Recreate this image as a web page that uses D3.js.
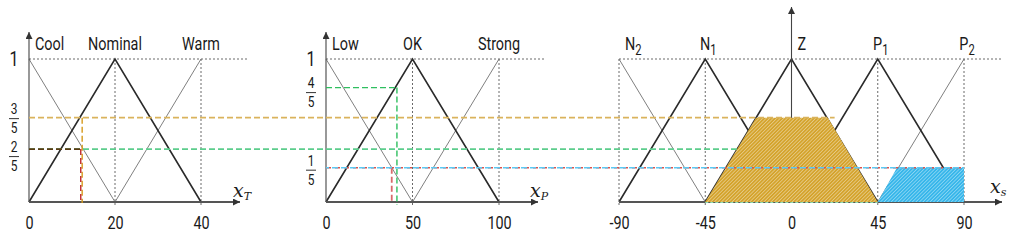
<!DOCTYPE html>
<html>
<head>
<meta charset="utf-8">
<script src="https://cdn.jsdelivr.net/npm/d3@7"></script>
<style>
  body { margin: 0; background: #fff; }
  svg { display: block; }
  .lbl { font-family: Roboto, "Noto Sans", sans-serif; fill: #1a1a1a; }
  .var { font-family: "DejaVu Serif", "Liberation Serif", serif; font-style: italic; fill: #1a1a1a; }
</style>
</head>
<body>
<div id="chart"></div>
<script>
// membership functions as [x, mu] points
const tempTicks = [0, 20, 40];
const tempNames = ["Cool", "Nominal", "Warm"];
const tempCool = [[0, 1], [20, 0]];
const tempNominal = [[0, 0], [20, 1], [40, 0]];
const tempWarm = [[20, 0], [40, 1]];

const pressTicks = [0, 50, 100];
const pressNames = ["Low", "OK", "Strong"];
const pressLow = [[0, 1], [50, 0]];
const pressOk = [[0, 0], [50, 1], [100, 0]];
const pressStrong = [[50, 0], [100, 1]];

const steerTicks = [-90, -45, 0, 45, 90];
const steerNames = [["N", "2"], ["N", "1"], ["Z", ""], ["P", "1"], ["P", "2"]];
const steerN2 = [[-90, 1], [-45, 0]];
const steerN1 = [[-90, 0], [-45, 1], [0, 0]];
const steerZ = [[-45, 0], [0, 1], [45, 0]];
const steerP1 = [[0, 0], [45, 1], [90, 0]];
const steerP2 = [[45, 0], [90, 1]];

// crisp inputs and firing levels
const tempInput = 12.2;
const pressInputLow = 38;
const pressInputOk = 41;
const muNominal = 0.59;
const muCool = 0.37;
const muOk = 0.8;
const muLow = 0.24;

// clipped output sets
const outZ = [[-45, 0], [-18.5, 0.59], [19, 0.59], [45, 0]];
const outP2 = [[45, 0], [55, 0.24], [90, 0.24], [90, 0]];

// fraction tick labels on the membership axis
const tempFracs = [["3", "5"], ["2", "5"]];
const pressFracs = [["4", "5"], ["1", "5"]];

async function draw() {
  const dimensions = { width: 1024, height: 245 };

  const yScale = d3.scaleLinear().domain([0, 1]).range([202, 59]);
  const xT = d3.scaleLinear().domain([0, 40]).range([29, 201]);
  const xP = d3.scaleLinear().domain([0, 100]).range([326, 499]);
  const xS = d3.scaleLinear().domain([-90, 90]).range([619, 964]);

  const svg = d3
    .select("#chart")
    .append("svg")
    .attr("width", dimensions.width)
    .attr("height", dimensions.height);

  const defs = svg.append("defs");
  defs
    .append("marker")
    .attr("id", "arrow")
    .attr("viewBox", "0 0 10 10")
    .attr("refX", 10)
    .attr("refY", 5)
    .attr("markerWidth", 9)
    .attr("markerHeight", 7)
    .attr("markerUnits", "userSpaceOnUse")
    .attr("orient", "auto")
    .append("path")
    .attr("d", "M0,0L10,5L0,10z")
    .attr("fill", "#333");

  const hatch = (id, color) => {
    const p = defs
      .append("pattern")
      .attr("id", id)
      .attr("patternUnits", "userSpaceOnUse")
      .attr("width", 2.5)
      .attr("height", 2.5)
      .attr("patternTransform", "rotate(45)");
    p.append("rect").attr("width", 2.5).attr("height", 2.5).attr("fill", color);
    p.append("line")
      .attr("x1", 0.4).attr("y1", 0).attr("x2", 0.4).attr("y2", 2.5)
      .attr("stroke", "#fff")
      .attr("stroke-width", 0.8)
      .attr("stroke-opacity", 0.45);
  };
  hatch("hatchGold", "#d4a32c");
  hatch("hatchBlue", "#36b6ea");

  const panels = [
    {
      x: xT, ticks: tempTicks, names: tempNames, anchors: ["start", "middle", "middle"],
      thick: [tempNominal], thin: [tempCool, tempWarm], dotted: [20, 40],
      topEnd: 247, arrowEnd: 240, yTop: 32, one: 14, sym: ["x", "T"], symX: 233,
      fracs: tempFracs, fracLevels: [muNominal, muCool], fracNudge: [1, 7.5], fracX: 14,
    },
    {
      x: xP, ticks: pressTicks, names: pressNames, anchors: ["start", "middle", "middle"],
      thick: [pressOk], thin: [pressLow, pressStrong], dotted: [50, 100],
      topEnd: 545, arrowEnd: 538, yTop: 32, one: 311, sym: ["x", "P"], symX: 530,
      fracs: pressFracs, fracLevels: [muOk, muLow], fracNudge: [5, 2.5], fracX: 311,
    },
    {
      x: xS, ticks: steerTicks, names: steerNames, anchors: ["start", "middle", "start", "middle", "middle"],
      thick: [steerN1, steerZ, steerP1], thin: [steerN2, steerP2], dotted: [-90, -45, 45, 90],
      topEnd: 1001, arrowEnd: 1002, yTop: 7, one: null, sym: ["x", "s"], symX: 990,
      fracs: [], fracLevels: [], fracNudge: [], fracX: 0,
    },
  ];

  const base = yScale(0);
  const lineLayer = svg.append("g");

  panels.forEach((p) => {
    const x = p.x;
    const g = lineLayer.append("g");
    const x0 = x.range()[0];
    const line = d3.line().x((d) => x(d[0])).y((d) => yScale(d[1]));

    // dotted guides
    g.append("line")
      .attr("x1", x0).attr("x2", p.topEnd)
      .attr("y1", yScale(1)).attr("y2", yScale(1))
      .attr("stroke", "#444").attr("stroke-width", 0.8).attr("stroke-dasharray", "2,2");
    g.selectAll(".vdot")
      .data(p.dotted)
      .join("line")
      .attr("x1", (d) => x(d)).attr("x2", (d) => x(d))
      .attr("y1", yScale(1)).attr("y2", base + 3)
      .attr("stroke", "#444").attr("stroke-width", 0.8).attr("stroke-dasharray", "2,2");

    // membership functions
    g.selectAll(".thin")
      .data(p.thin)
      .join("path")
      .attr("d", line)
      .attr("fill", "none").attr("stroke", "#808080").attr("stroke-width", 1);
    g.selectAll(".thick")
      .data(p.thick)
      .join("path")
      .attr("d", line)
      .attr("fill", "none").attr("stroke", "#2a2a2a").attr("stroke-width", 1.6);

    // axes with arrows
    const yAxisX = x(0);
    g.append("line")
      .attr("x1", yAxisX).attr("x2", yAxisX)
      .attr("y1", base).attr("y2", p.yTop)
      .attr("stroke", "#444").attr("stroke-width", 1.1)
      .attr("marker-end", "url(#arrow)");
    g.append("line")
      .attr("x1", x0).attr("x2", p.arrowEnd)
      .attr("y1", base).attr("y2", base)
      .attr("stroke", "#555").attr("stroke-width", 2)
      .attr("marker-end", "url(#arrow)");
  });

  const sLine = d3.line().x((d) => xS(d[0])).y((d) => yScale(d[1]));
  const dash = "6,3";
  const green = "#5ccd8c";
  const orange = "#dab35c";

  // green (Cool) level goes under the fill
  svg.append("line")
    .attr("x1", xT(0)).attr("x2", xS(-28.5))
    .attr("y1", yScale(muCool)).attr("y2", yScale(muCool))
    .attr("stroke", green).attr("stroke-width", 1.6).attr("stroke-dasharray", dash);

  // clipped output sets in the steering panel
  svg.append("path").attr("d", sLine(outZ) + "Z").attr("fill", "url(#hatchGold)");
  svg.append("path").attr("d", sLine(outP2) + "Z").attr("fill", "url(#hatchBlue)");
  svg.append("line")
    .attr("x1", xS(-45)).attr("x2", xS(45))
    .attr("y1", base + 0.5).attr("y2", base + 0.5)
    .attr("stroke", "#8fdcae").attr("stroke-width", 1.2).attr("stroke-dasharray", "3,2");

  // dark part of the Cool level (red over green)
  svg.append("line")
    .attr("x1", xT(0)).attr("x2", xT(tempInput))
    .attr("y1", yScale(muCool)).attr("y2", yScale(muCool))
    .attr("stroke", "#5a3a12").attr("stroke-width", 1.6).attr("stroke-dasharray", dash);

  // Nominal level
  svg.append("line")
    .attr("x1", xT(0)).attr("x2", xS(22.5))
    .attr("y1", yScale(muNominal)).attr("y2", yScale(muNominal))
    .attr("stroke", orange).attr("stroke-width", 1.6).attr("stroke-dasharray", dash);

  // temperature input
  svg.append("line")
    .attr("x1", xT(tempInput) + 0.7).attr("x2", xT(tempInput) + 0.7)
    .attr("y1", yScale(muNominal)).attr("y2", base + 1)
    .attr("stroke", "#d69a1c").attr("stroke-width", 1.4).attr("stroke-dasharray", dash);
  svg.append("line")
    .attr("x1", xT(tempInput) - 0.7).attr("x2", xT(tempInput) - 0.7)
    .attr("y1", yScale(muCool)).attr("y2", base + 1)
    .attr("stroke", "#c0282a").attr("stroke-width", 1.4).attr("stroke-dasharray", dash);

  // OK level and pressure input
  svg.append("line")
    .attr("x1", xP(0)).attr("x2", xP(pressInputOk))
    .attr("y1", yScale(muOk)).attr("y2", yScale(muOk))
    .attr("stroke", "#2fbf5f").attr("stroke-width", 1.4).attr("stroke-dasharray", dash);
  svg.append("line")
    .attr("x1", xP(pressInputOk)).attr("x2", xP(pressInputOk))
    .attr("y1", yScale(muOk)).attr("y2", base + 3)
    .attr("stroke", "#2fbf5f").attr("stroke-width", 1.4).attr("stroke-dasharray", dash);
  svg.append("line")
    .attr("x1", xP(pressInputLow)).attr("x2", xP(pressInputLow))
    .attr("y1", yScale(muLow)).attr("y2", base)
    .attr("stroke", "#d86a6a").attr("stroke-width", 1.8).attr("stroke-dasharray", dash);

  // Low level, red and blue together
  svg.append("line")
    .attr("x1", xP(0)).attr("x2", xS(90))
    .attr("y1", yScale(muLow)).attr("y2", yScale(muLow))
    .attr("stroke", "#d9534f").attr("stroke-width", 1.4).attr("stroke-dasharray", "5,4");
  svg.append("line")
    .attr("x1", xP(0)).attr("x2", xS(90))
    .attr("y1", yScale(muLow)).attr("y2", yScale(muLow))
    .attr("stroke", "#5cc8f2").attr("stroke-width", 1.6).attr("stroke-dasharray", "6,3")
    .attr("stroke-dashoffset", 3);

  // text
  panels.forEach((p) => {
    const x = p.x;
    const g = svg.append("g");

    // tick labels via axis (plain hyphen for negatives)
    const axis = d3
      .axisBottom(x)
      .tickValues(p.ticks)
      .tickFormat((d) => String(d))
      .tickSize(0)
      .tickPadding(14);
    g.append("g")
      .attr("transform", `translate(0, ${base})`)
      .call(axis)
      .call((a) => a.select(".domain").remove())
      .selectAll("text")
      .attr("class", "lbl")
      .style("font-size", "18px")
      .attr("transform", "scale(0.8,1)");

    // set names
    p.names.forEach((name, i) => {
      const cx = x(p.ticks[i]);
      const anchor = p.anchors[i];
      const tx = anchor === "start" ? cx + 6 : cx + (Array.isArray(name) && name[1] ? 3 : 0);
      const t = g.append("text")
        .attr("class", "lbl")
        .attr("text-anchor", anchor)
        .attr("transform", `translate(${tx}, 50) scale(0.8,1)`)
        .style("font-size", "18px");
      if (Array.isArray(name)) {
        t.append("tspan").text(name[0]);
        if (name[1]) {
          t.append("tspan").attr("dy", 5).style("font-size", "14px").text(name[1]);
        }
      } else {
        t.text(name);
      }
    });

    // "1" on the membership axis
    if (p.one !== null) {
      g.append("text")
        .attr("class", "lbl")
        .attr("text-anchor", "middle")
        .attr("transform", `translate(${p.one}, ${yScale(1)}) scale(0.8,1)`)
        .attr("dy", "0.36em")
        .style("font-size", "20px")
        .text("1");
    }

    // fractions
    p.fracs.forEach((f, i) => {
      const by = yScale(p.fracLevels[i]) + p.fracNudge[i];
      g.append("text")
        .attr("class", "lbl")
        .attr("text-anchor", "middle")
        .attr("transform", `translate(${p.fracX}, ${by - 9.5}) scale(0.85,1)`)
        .attr("dy", "0.36em")
        .style("font-size", "14px")
        .text(f[0]);
      g.append("line")
        .attr("x1", p.fracX - 5).attr("x2", p.fracX + 5)
        .attr("y1", by).attr("y2", by)
        .attr("stroke", "#333").attr("stroke-width", 1);
      g.append("text")
        .attr("class", "lbl")
        .attr("text-anchor", "middle")
        .attr("transform", `translate(${p.fracX}, ${by + 9.5}) scale(0.85,1)`)
        .attr("dy", "0.36em")
        .style("font-size", "14px")
        .text(f[1]);
    });

    // variable symbol
    const s = g.append("text")
      .attr("class", "var")
      .attr("x", p.symX)
      .attr("y", p.sym[1] === "s" ? 193 : 197)
      .style("font-size", "19px");
    s.append("tspan").text(p.sym[0]);
    s.append("tspan").attr("dy", 3).style("font-size", "11px").text(p.sym[1]);
  });
}

draw();
</script>
</body>
</html>
